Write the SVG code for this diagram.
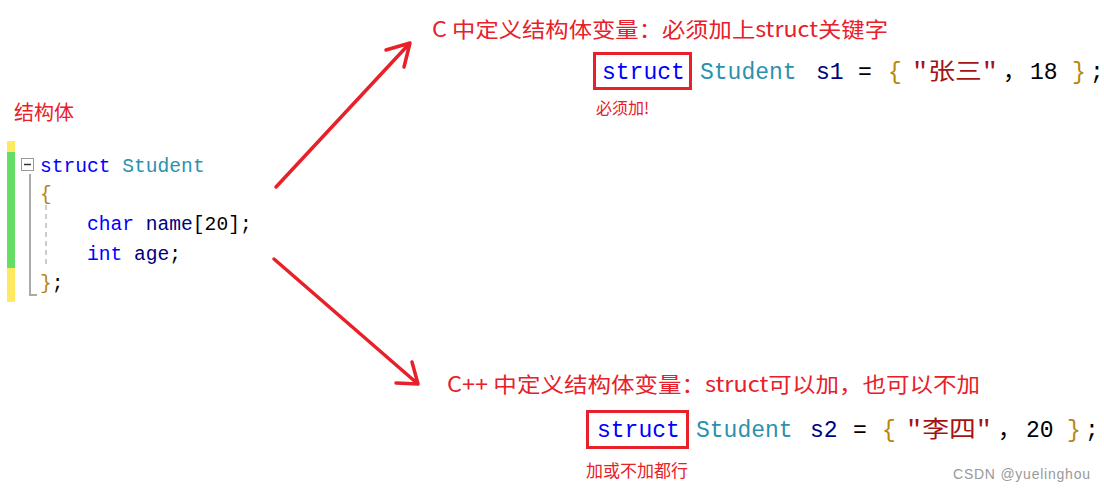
<svg xmlns="http://www.w3.org/2000/svg" width="1104" height="493" viewBox="0 0 1104 493">
<style>
.c{font-family:"Liberation Mono","Noto Sans CJK SC",monospace;font-size:19.6px}
.r{font-family:"Liberation Mono","Noto Sans CJK SC",monospace;font-size:23px}
.kw{fill:#0000ff}.ty{fill:#2b91af}.id{fill:#000080}.st{fill:#a31515}.p{fill:#000}.br{fill:#b8860b}
.lab{font-family:"Noto Sans CJK SC","Liberation Sans",sans-serif;fill:#e8202a}
.ar{stroke:#e8202a;stroke-width:3.5;fill:none;stroke-linecap:round;stroke-linejoin:round}
.box{stroke:#e8202a;stroke-width:3;fill:none}
</style>
<rect width="1104" height="493" fill="#fff"/>
<g id="title"><text class="lab" x="14" y="120" font-size="20">结构体</text></g>
<g id="code">
<rect x="7" y="141" width="8" height="11" fill="#ffe960"/>
<rect x="7" y="152" width="8" height="116" fill="#66dd66"/>
<rect x="7" y="268" width="8" height="34" fill="#ffe960"/>
<rect x="21.5" y="158.5" width="12" height="12" fill="#fff" stroke="#999"/>
<line x1="24" y1="164.5" x2="31" y2="164.5" stroke="#333" stroke-width="1.5"/>
<polyline points="30,174 30,295 37,295" fill="none" stroke="#aaa" stroke-width="2"/>
<line x1="46" y1="205" x2="46" y2="266" stroke="#ccc" stroke-width="2" stroke-dasharray="5,4"/>
<text class="c" x="40" y="172"><tspan class="kw">struct</tspan> <tspan class="ty">Student</tspan></text>
<text class="c br" x="40" y="200">{</text>
<text class="c" x="87" y="230"><tspan class="kw">char</tspan> <tspan class="id">name</tspan><tspan class="p">[20];</tspan></text>
<text class="c" x="87" y="260"><tspan class="kw">int</tspan> <tspan class="id">age</tspan><tspan class="p">;</tspan></text>
<text class="c" x="40" y="289"><tspan class="br">}</tspan><tspan class="p">;</tspan></text>
</g>
<g id="connectors">
<path class="ar" d="M276,187 L410,43 M386,50 L410,43 L404,67"/>
<path class="ar" d="M274,259 L418,384 M396,383 L418,384 L412,362"/>
</g>
<g id="c-def">
<text class="lab" x="432" y="37" font-size="21" textLength="456" lengthAdjust="spacingAndGlyphs">C 中定义结构体变量：必须加上struct关键字</text>
<rect class="box" x="594.5" y="53.5" width="96" height="35"/>
<text class="r kw" x="602" y="79">struct</text>
<text class="r ty" x="700" y="79">Student</text>
<text class="r id" x="816" y="79">s1</text>
<text class="r p" x="858" y="79">=</text>
<text class="r br" x="888" y="79">{</text>
<text class="r st" x="912" y="79" textLength="86" lengthAdjust="spacingAndGlyphs">″张三″</text>
<text class="r p" x="1003" y="79">，</text>
<text class="r p" x="1030" y="79">18</text>
<text class="r br" x="1072" y="79">}</text>
<text class="r p" x="1090" y="79">;</text>
<text class="lab" x="596" y="114" font-size="16">必须加!</text>
</g>
<g id="cpp-def">
<text class="lab" x="447" y="392" font-size="21" textLength="533" lengthAdjust="spacingAndGlyphs">C++ 中定义结构体变量：struct可以加，也可以不加</text>
<rect class="box" x="587.5" y="411.5" width="100" height="36"/>
<text class="r kw" x="597" y="437">struct</text>
<text class="r ty" x="696" y="437">Student</text>
<text class="r id" x="810" y="437">s2</text>
<text class="r p" x="853" y="437">=</text>
<text class="r br" x="882" y="437">{</text>
<text class="r st" x="906" y="437" textLength="86" lengthAdjust="spacingAndGlyphs">″李四″</text>
<text class="r p" x="998" y="437">，</text>
<text class="r p" x="1026" y="437">20</text>
<text class="r br" x="1067" y="437">}</text>
<text class="r p" x="1085" y="437">;</text>
<text class="lab" x="586" y="477" font-size="17">加或不加都行</text>
</g>
<text x="953" y="479" font-family="Liberation Sans,sans-serif" font-size="14" fill="#999" textLength="137">CSDN @yuelinghou</text>
</svg>
